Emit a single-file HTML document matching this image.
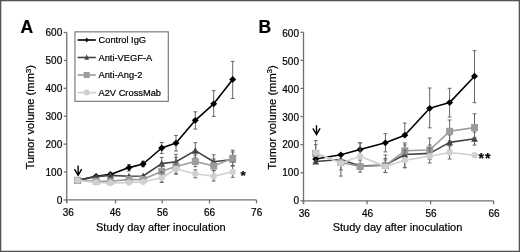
<!DOCTYPE html>
<html><head><meta charset="utf-8"><title>Tumor volume</title>
<style>
html,body{margin:0;padding:0;background:#fff;width:520px;height:252px;overflow:hidden}
svg{display:block}
text{font-family:"Liberation Sans", Arial, sans-serif;fill:#000;stroke:#000;stroke-width:0.2px}
.tk{font-size:10px}
.tt{font-size:11px}
.yt{font-size:11.2px}
.lg{font-size:9.3px}
.pl{font-size:17.5px;font-weight:bold}
.st{font-size:14px;font-weight:bold}
.ax{stroke:#707070;stroke-width:1.3}
.eb{stroke:#666;stroke-width:1;fill:none}
</style></head><body>
<svg width="520" height="252" viewBox="0 0 520 252">
<rect x="0" y="0" width="520" height="252" fill="#fff"/>
<line x1="66.75" y1="32.5" x2="66.75" y2="202.95" class="ax"/>
<line x1="63.75" y1="199.95" x2="66.75" y2="199.95" class="ax"/>
<text x="62.25" y="203.6" class="tk" text-anchor="end">0</text>
<line x1="63.75" y1="172.04" x2="66.75" y2="172.04" class="ax"/>
<text x="62.25" y="175.72" class="tk" text-anchor="end">100</text>
<line x1="63.75" y1="144.13" x2="66.75" y2="144.13" class="ax"/>
<text x="62.25" y="147.85" class="tk" text-anchor="end">200</text>
<line x1="63.75" y1="116.22" x2="66.75" y2="116.22" class="ax"/>
<text x="62.25" y="119.97" class="tk" text-anchor="end">300</text>
<line x1="63.75" y1="88.32" x2="66.75" y2="88.32" class="ax"/>
<text x="62.25" y="92.1" class="tk" text-anchor="end">400</text>
<line x1="63.75" y1="60.41" x2="66.75" y2="60.41" class="ax"/>
<text x="62.25" y="64.22" class="tk" text-anchor="end">500</text>
<line x1="63.75" y1="32.5" x2="66.75" y2="32.5" class="ax"/>
<text x="62.25" y="36.35" class="tk" text-anchor="end">600</text>
<line x1="66.75" y1="199.95" x2="256.5" y2="199.95" class="ax"/>
<line x1="66.75" y1="199.95" x2="66.75" y2="203.35" class="ax"/>
<text x="68.2" y="215.85" class="tk" text-anchor="middle">36</text>
<line x1="115.5" y1="199.95" x2="115.5" y2="203.35" class="ax"/>
<text x="115.3" y="215.85" class="tk" text-anchor="middle">46</text>
<line x1="162.2" y1="199.95" x2="162.2" y2="203.35" class="ax"/>
<text x="162.6" y="215.85" class="tk" text-anchor="middle">56</text>
<line x1="209.5" y1="199.95" x2="209.5" y2="203.35" class="ax"/>
<text x="209.45" y="215.85" class="tk" text-anchor="middle">66</text>
<line x1="256.5" y1="199.95" x2="256.5" y2="203.35" class="ax"/>
<text x="256.65" y="215.85" class="tk" text-anchor="middle">76</text>
<text transform="translate(34.3,169.6) rotate(-90)" class="yt">Tumor volume (mm<tspan dy="-3.4" font-size="7.6">3</tspan><tspan dy="3.4">)</tspan></text>
<text x="96" y="230.8" class="tt">Study day after inoculation</text>
<text x="20.6" y="32.6" class="pl">A</text>
<line x1="303.5" y1="32.3" x2="303.5" y2="203.8" class="ax"/>
<line x1="300.5" y1="200.8" x2="303.5" y2="200.8" class="ax"/>
<text x="299" y="204.15" class="tk" text-anchor="end">0</text>
<line x1="300.5" y1="172.72" x2="303.5" y2="172.72" class="ax"/>
<text x="299" y="176.27" class="tk" text-anchor="end">100</text>
<line x1="300.5" y1="144.63" x2="303.5" y2="144.63" class="ax"/>
<text x="299" y="148.38" class="tk" text-anchor="end">200</text>
<line x1="300.5" y1="116.55" x2="303.5" y2="116.55" class="ax"/>
<text x="299" y="120.5" class="tk" text-anchor="end">300</text>
<line x1="300.5" y1="88.47" x2="303.5" y2="88.47" class="ax"/>
<text x="299" y="92.62" class="tk" text-anchor="end">400</text>
<line x1="300.5" y1="60.38" x2="303.5" y2="60.38" class="ax"/>
<text x="299" y="64.73" class="tk" text-anchor="end">500</text>
<line x1="300.5" y1="32.3" x2="303.5" y2="32.3" class="ax"/>
<text x="299" y="36.85" class="tk" text-anchor="end">600</text>
<line x1="303.5" y1="200.8" x2="493.6" y2="200.8" class="ax"/>
<line x1="303.5" y1="200.8" x2="303.5" y2="204.2" class="ax"/>
<text x="304.35" y="216.6" class="tk" text-anchor="middle">36</text>
<line x1="367" y1="200.8" x2="367" y2="204.2" class="ax"/>
<text x="367.5" y="216.6" class="tk" text-anchor="middle">46</text>
<line x1="430.6" y1="200.8" x2="430.6" y2="204.2" class="ax"/>
<text x="431" y="216.6" class="tk" text-anchor="middle">56</text>
<line x1="493.6" y1="200.8" x2="493.6" y2="204.2" class="ax"/>
<text x="494" y="216.6" class="tk" text-anchor="middle">66</text>
<text transform="translate(275.6,169.8) rotate(-90)" class="yt">Tumor volume (mm<tspan dy="-3.4" font-size="7.6">3</tspan><tspan dy="3.4">)</tspan></text>
<text x="332.7" y="230.8" class="tt">Study day after inoculation</text>
<text x="258.6" y="32.6" class="pl">B</text>
<path d="M129 164.6V171M127.1 164.6H130.9M127.1 171H130.9" class="eb"/>
<path d="M143.1 161.2V166.8M141.2 161.2H145M141.2 166.8H145" class="eb"/>
<path d="M161.7 142.5V153.5M159.8 142.5H163.6M159.8 153.5H163.6" class="eb"/>
<path d="M176 135.4V151M174.1 135.4H177.9M174.1 151H177.9" class="eb"/>
<path d="M195.3 111.8V129.1M193.4 111.8H197.2M193.4 129.1H197.2" class="eb"/>
<path d="M213.7 90.6V116.4M211.8 90.6H215.6M211.8 116.4H215.6" class="eb"/>
<path d="M232.7 61.4V98.5M230.8 61.4H234.6M230.8 98.5H234.6" class="eb"/>
<path d="M77.6 180.4L96.1 176.3L110.4 174.4L129 167.6L143.1 164L161.7 148L176 143.1L195.3 120.3L213.7 103.8L232.7 79.4" fill="none" stroke="#000000" stroke-width="1.6" stroke-linejoin="round"/>
<path d="M77.6 177L81.1 180.4L77.6 183.8L74.1 180.4Z" fill="#000000"/>
<path d="M96.1 172.9L99.6 176.3L96.1 179.7L92.6 176.3Z" fill="#000000"/>
<path d="M110.4 171L113.9 174.4L110.4 177.8L106.9 174.4Z" fill="#000000"/>
<path d="M129 164.2L132.5 167.6L129 171L125.5 167.6Z" fill="#000000"/>
<path d="M143.1 160.6L146.6 164L143.1 167.4L139.6 164Z" fill="#000000"/>
<path d="M161.7 144.6L165.2 148L161.7 151.4L158.2 148Z" fill="#000000"/>
<path d="M176 139.7L179.5 143.1L176 146.5L172.5 143.1Z" fill="#000000"/>
<path d="M195.3 116.9L198.8 120.3L195.3 123.7L191.8 120.3Z" fill="#000000"/>
<path d="M213.7 100.4L217.2 103.8L213.7 107.2L210.2 103.8Z" fill="#000000"/>
<path d="M232.7 76L236.2 79.4L232.7 82.8L229.2 79.4Z" fill="#000000"/>
<path d="M161.7 157.4V170M159.8 157.4H163.6M159.8 170H163.6" class="eb"/>
<path d="M176 154.3V169M174.1 154.3H177.9M174.1 169H177.9" class="eb"/>
<path d="M195.3 142.7V158M193.4 142.7H197.2M193.4 158H197.2" class="eb"/>
<path d="M213.7 154.8V168M211.8 154.8H215.6M211.8 168H215.6" class="eb"/>
<path d="M232.7 150.2V165.9M230.8 150.2H234.6M230.8 165.9H234.6" class="eb"/>
<path d="M77.6 180.4L96.1 176.6L110.4 175.4L129 176.2L143.1 176L161.7 163.6L176 161.8L195.3 150.6L213.7 161.8L232.7 159.5" fill="none" stroke="#444444" stroke-width="1.6" stroke-linejoin="round"/>
<path d="M77.6 176.84L81 183.44L74.2 183.44Z" fill="#444444"/>
<path d="M96.1 173.04L99.5 179.64L92.7 179.64Z" fill="#444444"/>
<path d="M110.4 171.84L113.8 178.44L107 178.44Z" fill="#444444"/>
<path d="M129 172.64L132.4 179.24L125.6 179.24Z" fill="#444444"/>
<path d="M143.1 172.44L146.5 179.04L139.7 179.04Z" fill="#444444"/>
<path d="M161.7 160.04L165.1 166.64L158.3 166.64Z" fill="#444444"/>
<path d="M176 158.24L179.4 164.84L172.6 164.84Z" fill="#444444"/>
<path d="M195.3 147.04L198.7 153.64L191.9 153.64Z" fill="#444444"/>
<path d="M213.7 158.24L217.1 164.84L210.3 164.84Z" fill="#444444"/>
<path d="M232.7 155.94L236.1 162.54L229.3 162.54Z" fill="#444444"/>
<path d="M161.7 165V182.4M159.8 165H163.6M159.8 182.4H163.6" class="eb"/>
<path d="M176 157.3V174M174.1 157.3H177.9M174.1 174H177.9" class="eb"/>
<path d="M195.3 155V166.7M193.4 155H197.2M193.4 166.7H197.2" class="eb"/>
<path d="M213.7 159V170.6M211.8 159H215.6M211.8 170.6H215.6" class="eb"/>
<path d="M232.7 152V165.5M230.8 152H234.6M230.8 165.5H234.6" class="eb"/>
<path d="M77.6 180.4L96.1 181.3L110.4 181.2L129 179.6L143.1 179.5L161.7 171.3L176 166.5L195.3 161.5L213.7 166L232.7 158.3" fill="none" stroke="#9c9c9c" stroke-width="1.6" stroke-linejoin="round"/>
<rect x="74.1" y="176.9" width="7" height="7" fill="#9c9c9c"/>
<rect x="92.6" y="177.8" width="7" height="7" fill="#9c9c9c"/>
<rect x="106.9" y="177.7" width="7" height="7" fill="#9c9c9c"/>
<rect x="125.5" y="176.1" width="7" height="7" fill="#9c9c9c"/>
<rect x="139.6" y="176" width="7" height="7" fill="#9c9c9c"/>
<rect x="158.2" y="167.8" width="7" height="7" fill="#9c9c9c"/>
<rect x="172.5" y="163" width="7" height="7" fill="#9c9c9c"/>
<rect x="191.8" y="158" width="7" height="7" fill="#9c9c9c"/>
<rect x="210.2" y="162.5" width="7" height="7" fill="#9c9c9c"/>
<rect x="229.2" y="154.8" width="7" height="7" fill="#9c9c9c"/>
<path d="M161.7 172V182.4M159.8 172H163.6M159.8 182.4H163.6" class="eb"/>
<path d="M176 164V174M174.1 164H177.9M174.1 174H177.9" class="eb"/>
<path d="M195.3 169.8V177.8M193.4 169.8H197.2M193.4 177.8H197.2" class="eb"/>
<path d="M213.7 170.6V181M211.8 170.6H215.6M211.8 181H215.6" class="eb"/>
<path d="M232.7 166V177.3M230.8 166H234.6M230.8 177.3H234.6" class="eb"/>
<path d="M77.6 180.4L96.1 182.4L110.4 183L129 182.6L143.1 181.8L161.7 177.8L176 169L195.3 173.8L213.7 176.2L232.7 171.8" fill="none" stroke="#d0d0d0" stroke-width="1.6" stroke-linejoin="round"/>
<circle cx="77.6" cy="180.4" r="3.15" fill="#d0d0d0"/>
<circle cx="96.1" cy="182.4" r="3.15" fill="#d0d0d0"/>
<circle cx="110.4" cy="183" r="3.15" fill="#d0d0d0"/>
<circle cx="129" cy="182.6" r="3.15" fill="#d0d0d0"/>
<circle cx="143.1" cy="181.8" r="3.15" fill="#d0d0d0"/>
<circle cx="161.7" cy="177.8" r="3.15" fill="#d0d0d0"/>
<circle cx="176" cy="169" r="3.15" fill="#d0d0d0"/>
<circle cx="195.3" cy="173.8" r="3.15" fill="#d0d0d0"/>
<circle cx="213.7" cy="176.2" r="3.15" fill="#d0d0d0"/>
<circle cx="232.7" cy="171.8" r="3.15" fill="#d0d0d0"/>
<path d="M315.7 144.7V159M313.8 144.7H317.6M313.8 159H317.6" class="eb"/>
<path d="M360.1 142.8V149.6M358.2 142.8H362M358.2 149.6H362" class="eb"/>
<path d="M385.4 133.7V151.9M383.5 133.7H387.3M383.5 151.9H387.3" class="eb"/>
<path d="M404.8 123V135.2M402.9 123H406.7M402.9 135.2H406.7" class="eb"/>
<path d="M429.7 88V127.8M427.8 88H431.6M427.8 127.8H431.6" class="eb"/>
<path d="M449.6 88.3V117M447.7 88.3H451.5M447.7 117H451.5" class="eb"/>
<path d="M474.5 50.7V102.7M472.6 50.7H476.4M472.6 102.7H476.4" class="eb"/>
<path d="M315.7 159L340.9 154.8L360.1 149.6L385.4 142.8L404.8 135.2L429.7 108.3L449.6 102.6L474.5 76.2" fill="none" stroke="#000000" stroke-width="1.6" stroke-linejoin="round"/>
<path d="M315.7 155.6L319.2 159L315.7 162.4L312.2 159Z" fill="#000000"/>
<path d="M340.9 151.4L344.4 154.8L340.9 158.2L337.4 154.8Z" fill="#000000"/>
<path d="M360.1 146.2L363.6 149.6L360.1 153L356.6 149.6Z" fill="#000000"/>
<path d="M385.4 139.4L388.9 142.8L385.4 146.2L381.9 142.8Z" fill="#000000"/>
<path d="M404.8 131.8L408.3 135.2L404.8 138.6L401.3 135.2Z" fill="#000000"/>
<path d="M429.7 104.9L433.2 108.3L429.7 111.7L426.2 108.3Z" fill="#000000"/>
<path d="M449.6 99.2L453.1 102.6L449.6 106L446.1 102.6Z" fill="#000000"/>
<path d="M474.5 72.8L478 76.2L474.5 79.6L471 76.2Z" fill="#000000"/>
<path d="M385.4 155V165M383.5 155H387.3M383.5 165H387.3" class="eb"/>
<path d="M404.8 145V154.5M402.9 145H406.7M402.9 154.5H406.7" class="eb"/>
<path d="M429.7 145V158.9M427.8 145H431.6M427.8 158.9H431.6" class="eb"/>
<path d="M449.6 135V150M447.7 135H451.5M447.7 150H451.5" class="eb"/>
<path d="M474.5 132V145.1M472.6 132H476.4M472.6 145.1H476.4" class="eb"/>
<path d="M315.7 161.5L340.9 159.5L360.1 166L385.4 165L404.8 154.5L429.7 153.4L449.6 142.4L474.5 138.8" fill="none" stroke="#444444" stroke-width="1.6" stroke-linejoin="round"/>
<path d="M315.7 157.94L319.1 164.54L312.3 164.54Z" fill="#444444"/>
<path d="M340.9 155.94L344.3 162.54L337.5 162.54Z" fill="#444444"/>
<path d="M360.1 162.44L363.5 169.04L356.7 169.04Z" fill="#444444"/>
<path d="M385.4 161.44L388.8 168.04L382 168.04Z" fill="#444444"/>
<path d="M404.8 150.94L408.2 157.54L401.4 157.54Z" fill="#444444"/>
<path d="M429.7 149.84L433.1 156.44L426.3 156.44Z" fill="#444444"/>
<path d="M449.6 138.84L453 145.44L446.2 145.44Z" fill="#444444"/>
<path d="M474.5 135.24L477.9 141.84L471.1 141.84Z" fill="#444444"/>
<path d="M340.9 162.5V176.1M339 162.5H342.8M339 176.1H342.8" class="eb"/>
<path d="M360.1 160V172.1M358.2 160H362M358.2 172.1H362" class="eb"/>
<path d="M385.4 158.6V172.5M383.5 158.6H387.3M383.5 172.5H387.3" class="eb"/>
<path d="M404.8 143V167.7M402.9 143H406.7M402.9 167.7H406.7" class="eb"/>
<path d="M429.7 138V158.9M427.8 138H431.6M427.8 158.9H431.6" class="eb"/>
<path d="M449.6 120V141M447.7 120H451.5M447.7 141H451.5" class="eb"/>
<path d="M474.5 113.8V137.6M472.6 113.8H476.4M472.6 137.6H476.4" class="eb"/>
<path d="M315.7 153.5L340.9 162.5L360.1 166.5L385.4 165.5L404.8 150.8L429.7 150L449.6 131.3L474.5 127.6" fill="none" stroke="#9c9c9c" stroke-width="1.6" stroke-linejoin="round"/>
<rect x="312.2" y="150" width="7" height="7" fill="#9c9c9c"/>
<rect x="337.4" y="159" width="7" height="7" fill="#9c9c9c"/>
<rect x="356.6" y="163" width="7" height="7" fill="#9c9c9c"/>
<rect x="381.9" y="162" width="7" height="7" fill="#9c9c9c"/>
<rect x="401.3" y="147.3" width="7" height="7" fill="#9c9c9c"/>
<rect x="426.2" y="146.5" width="7" height="7" fill="#9c9c9c"/>
<rect x="446.1" y="127.8" width="7" height="7" fill="#9c9c9c"/>
<rect x="471" y="124.1" width="7" height="7" fill="#9c9c9c"/>
<path d="M315.7 140.6V152.8M313.8 140.6H317.6M313.8 152.8H317.6" class="eb"/>
<path d="M340.9 163.3V169.9M339 163.3H342.8M339 169.9H342.8" class="eb"/>
<path d="M360.1 142.8V155M358.2 142.8H362M358.2 155H362" class="eb"/>
<path d="M385.4 160V172.5M383.5 160H387.3M383.5 172.5H387.3" class="eb"/>
<path d="M404.8 150V167.7M402.9 150H406.7M402.9 167.7H406.7" class="eb"/>
<path d="M429.7 148V163M427.8 148H431.6M427.8 163H431.6" class="eb"/>
<path d="M449.6 146V159M447.7 146H451.5M447.7 159H451.5" class="eb"/>
<path d="M315.7 152.8L340.9 163.3L360.1 156.3L385.4 166.6L404.8 160.2L429.7 156.2L449.6 152.5L474.5 155.2" fill="none" stroke="#d0d0d0" stroke-width="1.6" stroke-linejoin="round"/>
<circle cx="315.7" cy="152.8" r="3.15" fill="#d0d0d0"/>
<circle cx="340.9" cy="163.3" r="3.15" fill="#d0d0d0"/>
<circle cx="360.1" cy="156.3" r="3.15" fill="#d0d0d0"/>
<circle cx="385.4" cy="166.6" r="3.15" fill="#d0d0d0"/>
<circle cx="404.8" cy="160.2" r="3.15" fill="#d0d0d0"/>
<circle cx="429.7" cy="156.2" r="3.15" fill="#d0d0d0"/>
<circle cx="449.6" cy="152.5" r="3.15" fill="#d0d0d0"/>
<circle cx="474.5" cy="155.2" r="3.15" fill="#d0d0d0"/>
<path d="M78.1 165.5V175.3M74.5 169.1L78.1 175.3L81.7 169.1" fill="none" stroke="#000" stroke-width="1.4"/>
<path d="M316.5 125.2V134.6M312.9 128.4L316.5 134.6L320.1 128.4" fill="none" stroke="#000" stroke-width="1.4"/>
<text x="240.4" y="180.0" class="st" style="font-size:13.5px">*</text>
<text x="478.4" y="162.8" class="st" letter-spacing="1.2">**</text>
<rect x="74.95" y="31.85" width="93.35" height="69.45" fill="#fff" stroke="#707070" stroke-width="1.1"/>
<line x1="77.6" y1="40" x2="95.8" y2="40" stroke="#000000" stroke-width="1.6"/>
<path d="M86.7 37.4L88.5 40L86.7 42.6L84.9 40Z" fill="#000000"/>
<text x="98.5" y="43.4" class="lg">Control IgG</text>
<line x1="77.6" y1="57.5" x2="95.8" y2="57.5" stroke="#444444" stroke-width="1.6"/>
<path d="M86.7 54.14L89 59.74L84.4 59.74Z" fill="#444444"/>
<text x="98.5" y="60.9" class="lg">Anti-VEGF-A</text>
<line x1="77.6" y1="75" x2="95.8" y2="75" stroke="#9c9c9c" stroke-width="1.6"/>
<rect x="83.7" y="72" width="6" height="6" fill="#9c9c9c"/>
<text x="98.5" y="78.4" class="lg">Anti-Ang-2</text>
<line x1="77.6" y1="92.6" x2="95.8" y2="92.6" stroke="#d0d0d0" stroke-width="1.6"/>
<circle cx="86.7" cy="92.6" r="3" fill="#d0d0d0"/>
<text x="98.5" y="96" class="lg">A2V CrossMab</text>
<rect x="0.6" y="0.6" width="518.8" height="250.8" fill="none" stroke="#555" stroke-width="1.4"/>
</svg>
</body></html>
